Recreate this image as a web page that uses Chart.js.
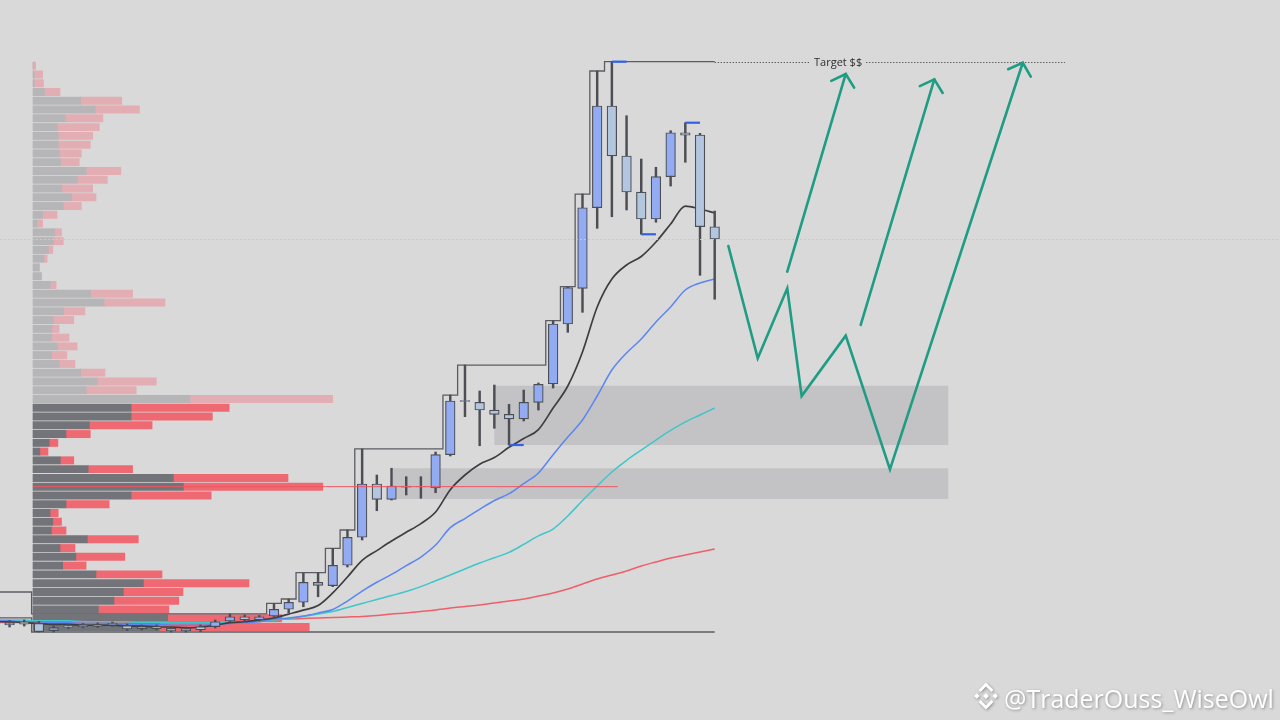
<!DOCTYPE html>
<html>
<head>
<meta charset="utf-8">
<title>Chart</title>
<script src="https://cdn.jsdelivr.net/npm/chart.js@4.4.1/dist/chart.umd.min.js"></script>
<style>
  html, body { margin: 0; padding: 0; background: #d9d9d9; }
  #wrap { width: 1280px; height: 720px; position: relative; }
</style>
</head>
<body>
<div id="wrap"><canvas id="priceChart"></canvas></div>
<script>
// candle number of the first entry (candles count from the start of the rally)
const firstIndex = -19;

const open = [1.06, 1.023, 1.060, 1.042, 0.958, 1.011, 1.003, 1.031, 1.023, 1.015, 0.981, 1.003, 0.985, 0.954, 1.003, 1.003, 1.068, 1.117, 1.080,
  1.125, 1.202, 1.282, 1.510, 1.471, 1.704, 2.023, 2.631, 2.456, 2.593, 2.596, 2.585, 2.965, 3.571, 3.562, 3.474, 3.425, 3.372, 3.562,
  3.771, 4.455, 4.862, 5.781, 6.941, 6.371, 5.960, 5.652, 6.135, 6.636, 6.610, 5.564];
const high = [1.08, 1.074, 1.080, 1.063, 1.011, 1.029, 1.040, 1.046, 1.057, 1.034, 1.023, 1.023, 1.000, 1.000, 1.023, 1.080, 1.148, 1.137, 1.131,
  1.270, 1.319, 1.612, 1.619, 1.897, 2.106, 3.030, 2.733, 2.810, 2.714, 2.714, 2.995, 3.645, 3.987, 3.691, 3.759, 3.539, 3.702, 3.782,
  4.493, 4.880, 5.937, 7.340, 7.446, 6.830, 6.336, 6.242, 6.659, 6.750, 6.629, 5.743];
const low = [1.02, 1.000, 1.011, 0.943, 0.943, 0.983, 0.989, 0.994, 1.006, 0.960, 0.966, 0.966, 0.943, 0.943, 0.949, 0.989, 1.057, 1.063, 1.068,
  1.114, 1.163, 1.231, 1.345, 1.460, 1.684, 1.992, 2.326, 2.448, 2.505, 2.468, 2.531, 2.950, 3.398, 3.067, 3.266, 3.075, 3.349, 3.474,
  3.725, 4.360, 4.588, 5.546, 5.678, 5.755, 5.478, 5.615, 6.028, 6.299, 5.010, 4.737];
const close = [1.04, 1.049, 1.031, 0.946, 0.992, 0.997, 1.023, 1.008, 1.042, 0.977, 1.003, 0.981, 0.954, 0.983, 0.966, 1.060, 1.117, 1.080, 1.117,
  1.202, 1.282, 1.510, 1.475, 1.704, 2.023, 2.631, 2.456, 2.608, 2.608, 2.602, 2.965, 3.577, 3.583, 3.474, 3.425, 3.372, 3.562, 3.767,
  4.455, 4.869, 5.781, 6.941, 6.371, 5.960, 5.652, 6.135, 6.636, 6.607, 5.564, 5.424];

// moving averages
const emaFast = [1.06, 1.06, 1.05, 1.04, 1.03, 1.03, 1.02, 1.02, 1.02, 1.01, 1.01, 1.00, 1.00, 0.99, 1.00, 1.02, 1.05, 1.06, 1.08,
  1.103, 1.147, 1.192, 1.244, 1.388, 1.570, 1.761, 1.871, 1.981, 2.080, 2.179, 2.311, 2.566, 2.733, 2.856, 2.932, 3.049, 3.149, 3.251,
  3.497, 3.748, 4.136, 4.649, 4.968, 5.128, 5.225, 5.390, 5.595, 5.800, 5.766, 5.721];
const emaMid = [1.07, 1.07, 1.06, 1.06, 1.05, 1.05, 1.04, 1.04, 1.04, 1.03, 1.03, 1.03, 1.02, 1.02, 1.02, 1.03, 1.04, 1.05, 1.06,
  1.091, 1.103, 1.125, 1.160, 1.200, 1.296, 1.410, 1.510, 1.600, 1.700, 1.798, 1.934, 2.133, 2.237, 2.342, 2.442, 2.520, 2.635, 2.757,
  2.965, 3.166, 3.360, 3.634, 3.930, 4.124, 4.284, 4.478, 4.649, 4.843, 4.922, 4.968];
const emaSlow = [1.08, 1.08, 1.08, 1.07, 1.07, 1.07, 1.06, 1.06, 1.06, 1.06, 1.05, 1.05, 1.05, 1.05, 1.05, 1.05, 1.06, 1.06, 1.07,
  1.080, 1.097, 1.120, 1.148, 1.177, 1.222, 1.268, 1.314, 1.359, 1.405, 1.460, 1.527, 1.593, 1.661, 1.730, 1.790, 1.851, 1.942, 2.039,
  2.117, 2.266, 2.442, 2.608, 2.767, 2.901, 3.018, 3.132, 3.241, 3.338, 3.417, 3.497];
const emaLong = [1.05, 1.05, 1.05, 1.05, 1.05, 1.05, 1.05, 1.05, 1.05, 1.05, 1.06, 1.06, 1.06, 1.06, 1.06, 1.06, 1.06, 1.07, 1.07,
  1.086, 1.091, 1.097, 1.103, 1.108, 1.114, 1.120, 1.131, 1.148, 1.160, 1.177, 1.194, 1.217, 1.234, 1.251, 1.274, 1.296, 1.319, 1.353,
  1.388, 1.433, 1.490, 1.547, 1.593, 1.639, 1.696, 1.741, 1.787, 1.821, 1.855, 1.889];

// channel of highest high / lowest low
const upperBand = [1.399, 1.399, 1.399, 1.15, 1.15, 1.15, 1.15, 1.15, 1.15, 1.15, 1.15, 1.15, 1.15, 1.15, 1.15, 1.15, 1.15, 1.15, 1.15,
  1.270, 1.319, 1.619, 1.619, 1.897, 2.106, 3.030, 3.030, 3.030, 3.030, 3.030, 3.030, 3.645, 3.987, 3.987, 3.987, 3.987, 3.987, 3.987,
  4.493, 4.880, 5.937, 7.340, 7.446, 7.446, 7.446, 7.446, 7.446, 7.446, 7.446, 7.446];
const lowerBand = [1.103, 1.103, 1.103, 0.943, 0.943, 0.943, 0.943, 0.943, 0.943, 0.943, 0.943, 0.943, 0.943, 0.943, 0.943, 0.943, 0.943, 0.943, 0.943,
  0.943, 0.943, 0.943, 0.943, 0.943, 0.943, 0.943, 0.943, 0.943, 0.943, 0.943, 0.943, 0.943, 0.943, 0.943, 0.943, 0.943, 0.943, 0.943,
  0.943, 0.943, 0.943, 0.943, 0.943, 0.943, 0.943, 0.943, 0.943, 0.943, 0.943, 0.943];

// swing markers (candle, price)
const pivotCandle = [16, 23, 25, 28];
const pivotPrice = [3.075, 7.446, 5.478, 6.750];

// volume profile, bottom row first
const profileLow = 1.0;
const profileStep = 0.1;
const valueAreaHigh = 3.5;
const pocPrice = 2.6;
const pocEnd = 23.4;
const volGrey = [42.1, 44.9, 21.8, 27.0, 30.1, 36.8, 21.0, 9.9, 14.3, 9.0, 18.1, 6.1, 6.6, 5.7, 11.0, 32.7, 50.1, 46.8, 18.4, 9.1,
  2.3, 5.4, 11.0, 18.8, 32.7, 32.7, 52.3, 17.7, 21.4, 15.9, 8.8, 6.2, 8.1, 6.2, 6.3, 6.8, 10.2, 23.7, 19.2, 5.8,
  2.8, 2.1, 3.6, 5.1, 6.8, 7.3, 1.3, 3.2, 10.1, 12.9, 9.6, 14.8, 17.7, 9.2, 8.8, 8.4, 8.4, 8.1, 10.7, 20.7, 15.9, 3.8, 0.4, 0.4, 0];
const volRed = [50.0, 38.0, 23.5, 21.6, 19.9, 35.2, 22.0, 7.8, 16.3, 5.0, 17.0, 4.9, 2.9, 2.7, 14.4, 26.7, 46.5, 38.2, 14.8, 4.5,
  2.7, 2.9, 8.1, 20.9, 27.1, 32.7, 47.6, 16.7, 19.7, 8.1, 5.2, 5.1, 6.6, 5.8, 2.4, 6.8, 7.1, 20.3, 14.0, 1.9,
  0, 0, 1.1, 1.5, 3.3, 2.2, 1.9, 4.8, 6.0, 8.1, 10.3, 10.0, 11.6, 6.2, 7.3, 10.7, 11.5, 14.0, 12.6, 14.8, 13.7, 5.2, 3.1, 2.8, 0.9];

// supply / demand zones
const zoneFrom = [15, 8.1];
const zoneTo = [45.9, 45.9];
const zoneLow = [3.075, 2.46];
const zoneHigh = [3.751, 2.81];

// projected path and arrows
const pathX = [30.93, 32.93, 34.94, 35.92, 38.92, 41.93, 50.97];
const pathY = [5.344, 4.064, 4.862, 3.634, 4.322, 2.798, 7.434];
const arrow2X = [34.94, 38.92];
const arrow2Y = [5.051, 7.306];
const arrow3X = [39.94, 44.95];
const arrow3Y = [4.444, 7.245];

const targetEnd = 53.85;
const targetLabelAt = 38.4;

const idx = open.map((_, i) => firstIndex + i);
const bull = close.map((c, i) => c >= open[i]);
const levels = volGrey.map((_, i) => +(profileLow + i * profileStep).toFixed(2));
const inValueArea = levels.map(p => p <= valueAreaHigh);

const series = (arr) => idx.map((k, i) => ({ x: k, y: arr[i] }));

function strokePath(ctx, pts, head) {
  ctx.beginPath();
  pts.forEach((p, i) => i ? ctx.lineTo(p[0], p[1]) : ctx.moveTo(p[0], p[1]));
  ctx.stroke();
  if (head) {
    const [x1, y1] = pts[pts.length - 2];
    const [x2, y2] = pts[pts.length - 1];
    const a = Math.atan2(y2 - y1, x2 - x1) + Math.PI;
    ctx.beginPath();
    ctx.moveTo(x2 + 16 * Math.cos(a - 0.84), y2 + 16 * Math.sin(a - 0.84));
    ctx.lineTo(x2, y2);
    ctx.lineTo(x2 + 16 * Math.cos(a + 0.84), y2 + 16 * Math.sin(a + 0.84));
    ctx.stroke();
  }
}

function binanceMark(ctx, cx, cy, s) {
  const poly = (pts) => {
    ctx.beginPath();
    pts.forEach((p, i) => i ? ctx.lineTo(cx + p[0] * s, cy + p[1] * s) : ctx.moveTo(cx + p[0] * s, cy + p[1] * s));
    ctx.closePath();
    ctx.fill();
  };
  const diamond = (dx, dy, r) => poly([[dx, dy - r], [dx + r, dy], [dx, dy + r], [dx - r, dy]]);
  diamond(0, 0, 0.22);
  diamond(-0.68, 0, 0.2);
  diamond(0.68, 0, 0.2);
  poly([[0, -1], [0.55, -0.45], [0.4, -0.3], [0, -0.7], [-0.4, -0.3], [-0.55, -0.45]]);
  poly([[0, 1], [0.55, 0.45], [0.4, 0.3], [0, 0.7], [-0.4, 0.3], [-0.55, 0.45]]);
}

const overlay = {
  id: 'overlay',
  beforeDraw(chart) {
    const { ctx, width, height } = chart;
    ctx.save();
    ctx.fillStyle = '#d9d9d9';
    ctx.fillRect(0, 0, width, height);
    ctx.restore();
  },
  beforeDatasetsDraw(chart) {
    const { ctx, scales: { x, y } } = chart;
    ctx.save();
    ctx.fillStyle = '#c3c3c5';
    zoneFrom.forEach((k, i) => {
      const x1 = x.getPixelForValue(k), x2 = x.getPixelForValue(zoneTo[i]);
      const y1 = y.getPixelForValue(zoneHigh[i]), y2 = y.getPixelForValue(zoneLow[i]);
      ctx.fillRect(x1, y1, x2 - x1, y2 - y1);
    });
    ctx.restore();
  },
  afterDatasetsDraw(chart) {
    const { ctx, chartArea, scales: { x, y, vol } } = chart;
    ctx.save();

    // last price line
    const lastY = Math.round(y.getPixelForValue(close[close.length - 1])) + 0.5;
    ctx.strokeStyle = '#c3cbd7';
    ctx.lineWidth = 1;
    ctx.setLineDash([2, 2]);
    ctx.beginPath();
    ctx.moveTo(chartArea.left, lastY);
    ctx.lineTo(chartArea.right, lastY);
    ctx.stroke();

    // point of control
    ctx.setLineDash([]);
    ctx.strokeStyle = '#ef5560';
    const pocY = y.getPixelForValue(pocPrice);
    ctx.beginPath();
    ctx.moveTo(vol.getPixelForValue(0), pocY);
    ctx.lineTo(x.getPixelForValue(pocEnd), pocY);
    ctx.stroke();

    // swing markers
    ctx.strokeStyle = '#2f62e6';
    ctx.lineWidth = 2.2;
    pivotCandle.forEach((k, i) => {
      const py = y.getPixelForValue(pivotPrice[i]);
      ctx.beginPath();
      ctx.moveTo(x.getPixelForValue(k), py);
      ctx.lineTo(x.getPixelForValue(k + 1), py);
      ctx.stroke();
    });

    // target line
    const lastK = idx[idx.length - 1];
    const topPrice = upperBand[upperBand.length - 1];
    const ty = Math.round(y.getPixelForValue(topPrice)) + 0.5;
    const tx = x.getPixelForValue(targetLabelAt);
    ctx.font = '11px "Open Sans", "Noto Sans", sans-serif';
    const tw = ctx.measureText('Target $$').width;
    ctx.strokeStyle = '#4a4a4a';
    ctx.lineWidth = 1;
    ctx.setLineDash([1.2, 1.8]);
    ctx.beginPath();
    ctx.moveTo(x.getPixelForValue(lastK), ty);
    ctx.lineTo(tx - tw / 2 - 4, ty);
    ctx.moveTo(tx + tw / 2 + 4, ty);
    ctx.lineTo(x.getPixelForValue(targetEnd), ty);
    ctx.stroke();
    ctx.setLineDash([]);
    ctx.fillStyle = '#2e2e2e';
    ctx.textAlign = 'center';
    ctx.textBaseline = 'middle';
    ctx.fillText('Target $$', tx, ty);

    // projected path
    ctx.strokeStyle = '#1f9c84';
    ctx.lineWidth = 2.6;
    ctx.lineJoin = 'miter';
    ctx.lineCap = 'round';
    const toPx = (xs, ys) => xs.map((v, i) => [x.getPixelForValue(v), y.getPixelForValue(ys[i])]);
    strokePath(ctx, toPx(pathX, pathY), true);
    strokePath(ctx, toPx(arrow2X, arrow2Y), true);
    strokePath(ctx, toPx(arrow3X, arrow3Y), true);
    ctx.restore();
  },
  afterDraw(chart) {
    const { ctx } = chart;
    ctx.save();
    ctx.shadowColor = 'rgba(0,0,0,0.35)';
    ctx.shadowBlur = 3;
    ctx.shadowOffsetX = 1;
    ctx.shadowOffsetY = 1;
    ctx.fillStyle = '#ffffff';
    binanceMark(ctx, 986, 696, 13.5);
    ctx.font = '25px "Open Sans", "Noto Sans", sans-serif';
    ctx.textAlign = 'left';
    ctx.textBaseline = 'alphabetic';
    ctx.fillText('@TraderOuss_WiseOwl', 1004, 708);
    ctx.restore();
  }
};

const hidden = { display: false, offset: false, grid: { display: false } };

new Chart(document.getElementById('priceChart'), {
  type: 'bar',
  data: {
    datasets: [
      {
        label: 'volume sell',
        indexAxis: 'y',
        xAxisID: 'vol',
        yAxisID: 'yv',
        grouped: false,
        barThickness: 7.3,
        maxBarThickness: 7.3,
        data: levels.map((p, i) => ({ y: p, x: [volGrey[i], volGrey[i] + volRed[i]] })),
        backgroundColor: inValueArea.map(v => v ? '#ef6972' : '#e2aeb3'),
        order: 12
      },
      {
        label: 'volume buy',
        indexAxis: 'y',
        xAxisID: 'vol',
        yAxisID: 'yv',
        grouped: false,
        barThickness: 7.3,
        maxBarThickness: 7.3,
        data: levels.map((p, i) => ({ y: p, x: [0, volGrey[i]] })),
        backgroundColor: inValueArea.map(v => v ? '#727479' : '#b6b6b8'),
        order: 11
      },
      {
        type: 'line', label: 'upper', xAxisID: 'x', yAxisID: 'y',
        data: series(upperBand), stepped: 'middle',
        borderColor: '#5c5d62', borderWidth: 1.3, pointRadius: 0, order: 9
      },
      {
        type: 'line', label: 'lower', xAxisID: 'x', yAxisID: 'y',
        data: series(lowerBand), stepped: 'middle',
        borderColor: '#5c5d62', borderWidth: 1.3, pointRadius: 0, order: 9
      },
      {
        type: 'line', label: 'ema long', xAxisID: 'x', yAxisID: 'y',
        data: series(emaLong), cubicInterpolationMode: 'monotone',
        borderColor: '#ef5f69', borderWidth: 1.5, pointRadius: 0, order: 7
      },
      {
        type: 'line', label: 'ema slow', xAxisID: 'x', yAxisID: 'y',
        data: series(emaSlow), cubicInterpolationMode: 'monotone',
        borderColor: '#3fc6c9', borderWidth: 1.5, pointRadius: 0, order: 6
      },
      {
        type: 'line', label: 'ema mid', xAxisID: 'x', yAxisID: 'y',
        data: series(emaMid), cubicInterpolationMode: 'monotone',
        borderColor: '#5a86f2', borderWidth: 1.5, pointRadius: 0, order: 5
      },
      {
        type: 'line', label: 'ema fast', xAxisID: 'x', yAxisID: 'y',
        data: series(emaFast), cubicInterpolationMode: 'monotone',
        borderColor: '#3d3e42', borderWidth: 1.7, pointRadius: 0, order: 4
      },
      {
        label: 'wicks', xAxisID: 'x', yAxisID: 'y',
        grouped: false,
        barThickness: 1.8,
        maxBarThickness: 1.8,
        data: idx.map((k, i) => ({ x: k, y: [low[i], high[i]] })),
        backgroundColor: '#4c4e54',
        order: 2
      },
      {
        label: 'bodies', xAxisID: 'x', yAxisID: 'y',
        grouped: false,
        barThickness: 9.6,
        maxBarThickness: 9.6,
        data: idx.map((k, i) => ({ x: k, y: [open[i], close[i]] })),
        backgroundColor: bull.map(b => b ? '#93abf3' : '#b3c6e0'),
        borderColor: '#4c4e54',
        borderWidth: 1.2,
        borderSkipped: false,
        order: 1
      }
    ]
  },
  options: {
    responsive: true,
    maintainAspectRatio: false,
    animation: false,
    layout: { padding: 0 },
    plugins: { legend: { display: false }, tooltip: { enabled: false } },
    scales: {
      x: { ...hidden, type: 'linear', min: -18.6521, max: 68.482 },
      y: { ...hidden, type: 'linear', min: -0.06043, max: 8.14937 },
      vol: { ...hidden, type: 'linear', axis: 'x', min: -11, max: 415.667 },
      yv: { ...hidden, type: 'linear', axis: 'y', min: -0.06043, max: 8.14937 }
    }
  },
  plugins: [overlay]
});
</script>
</body>
</html>
